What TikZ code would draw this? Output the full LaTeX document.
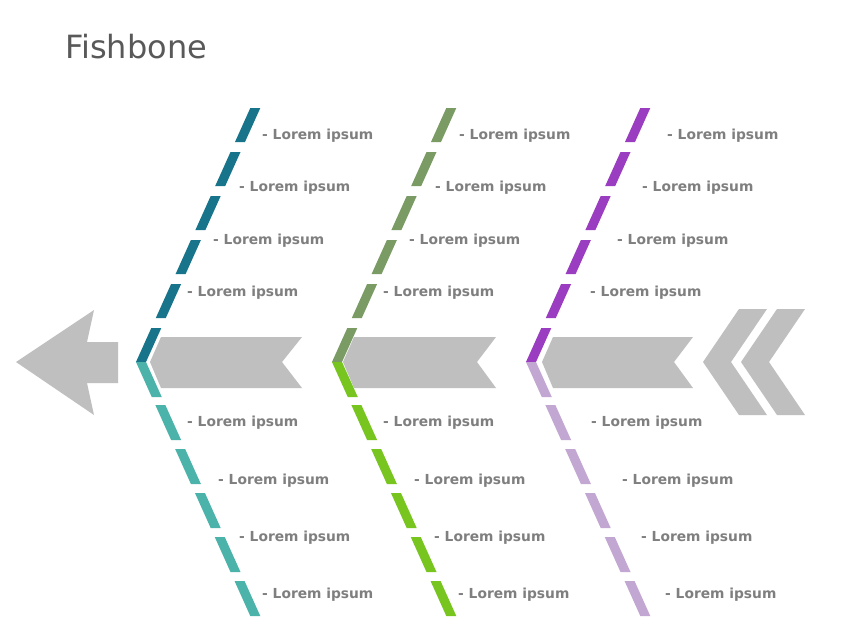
\documentclass[tikz,border=0pt]{standalone}
\usepackage{fontspec}
\setmainfont{DejaVu Sans}
\definecolor{cAup}{HTML}{17748A}
\definecolor{cAlo}{HTML}{4BB3A9}
\definecolor{cBup}{HTML}{7B9B65}
\definecolor{cBlo}{HTML}{77C51E}
\definecolor{cCup}{HTML}{9A3DC1}
\definecolor{cClo}{HTML}{C3A7D3}
\definecolor{shade}{HTML}{BFBFBF}
\definecolor{txt}{HTML}{7F7F7F}
\definecolor{ttl}{HTML}{595959}
\tikzset{
  lbl/.style={anchor=base west, inner sep=0pt, text=txt, font=\bfseries\fontsize{13.8}{16}\selectfont},
  ttlstyle/.style={anchor=base west, inner sep=0pt, text=ttl, font=\fontsize{32}{38}\selectfont},
  graybox/.style={fill=shade}
}
\newcommand\bonedash[4]{%
  \fill[#4] ({#1+0.45*abs(362-#2)-5},#2) -- ({#1+0.45*abs(362-#2)+5},#2)
    -- ({#1+0.45*abs(362-#3)+5},#3) -- ({#1+0.45*abs(362-#3)-5},#3) -- cycle;}
\begin{document}
\begin{tikzpicture}[x=1pt,y=-1pt]
\useasboundingbox (0,0) rectangle (853,640);
\fill[white] (0,0) rectangle (853,640);

% title
\node[ttlstyle] (title) at (65,58) {Fishbone};

% big left arrow
\fill[graybox] (16,362) -- (94,310) -- (87,342) -- (118,342) -- (118,383) -- (87,383) -- (94,415) -- cycle;

% ribbons
\fill[graybox] (150,362) -- (161,337) -- (302,337) -- (282,362) -- (302,388) -- (161,388) -- cycle;
\fill[graybox] (343,362) -- (354,337) -- (496,337) -- (477,362) -- (496,388) -- (354,388) -- cycle;
\fill[graybox] (542,362) -- (553,337) -- (693,337) -- (674,362) -- (693,388) -- (553,388) -- cycle;

% right chevrons
\fill[graybox] (703,362) -- (739,309) -- (767,309) -- (731,362) -- (767,415) -- (739,415) -- cycle;
\fill[graybox] (741,362) -- (777,309) -- (805,309) -- (769,362) -- (805,415) -- (777,415) -- cycle;

% bones
\foreach \X/\cu/\cl in {141/cAup/cAlo, 337/cBup/cBlo, 531/cCup/cClo}{
  \foreach \a/\b in {328/362, 284/318, 240/274, 196/230, 152/186, 108/142}{
    \bonedash{\X}{\a}{\b}{\cu}
  }
  \foreach \a/\b in {362/397, 405/440, 449/484, 493/528, 537/572, 581/616}{
    \bonedash{\X}{\a}{\b}{\cl}
  }
}

% labels column 1
\node[lbl] (a1) at (262,139) {- Lorem ipsum};
\node[lbl] (a2) at (239,191) {- Lorem ipsum};
\node[lbl] (a3) at (213,244) {- Lorem ipsum};
\node[lbl] (a4) at (187,296) {- Lorem ipsum};
\node[lbl] (a5) at (187,426) {- Lorem ipsum};
\node[lbl] (a6) at (218,484) {- Lorem ipsum};
\node[lbl] (a7) at (239,541) {- Lorem ipsum};
\node[lbl] (a8) at (262,598) {- Lorem ipsum};
% labels column 2
\node[lbl] (b1) at (459,139) {- Lorem ipsum};
\node[lbl] (b2) at (435,191) {- Lorem ipsum};
\node[lbl] (b3) at (409,244) {- Lorem ipsum};
\node[lbl] (b4) at (383,296) {- Lorem ipsum};
\node[lbl] (b5) at (383,426) {- Lorem ipsum};
\node[lbl] (b6) at (414,484) {- Lorem ipsum};
\node[lbl] (b7) at (434,541) {- Lorem ipsum};
\node[lbl] (b8) at (458,598) {- Lorem ipsum};
% labels column 3
\node[lbl] (c1) at (667,139) {- Lorem ipsum};
\node[lbl] (c2) at (642,191) {- Lorem ipsum};
\node[lbl] (c3) at (617,244) {- Lorem ipsum};
\node[lbl] (c4) at (590,296) {- Lorem ipsum};
\node[lbl] (c5) at (591,426) {- Lorem ipsum};
\node[lbl] (c6) at (622,484) {- Lorem ipsum};
\node[lbl] (c7) at (641,541) {- Lorem ipsum};
\node[lbl] (c8) at (665,598) {- Lorem ipsum};
\end{tikzpicture}
\end{document}
